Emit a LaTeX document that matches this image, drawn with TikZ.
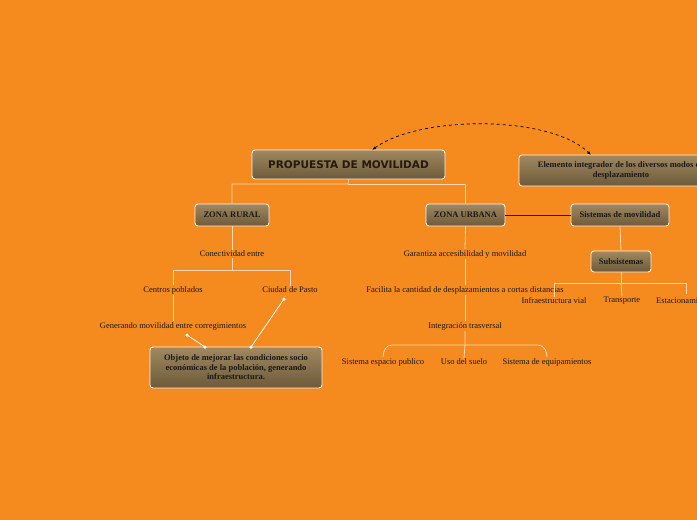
\documentclass[tikz,border=0pt]{standalone}
\usepackage{fontspec}
\setmainfont{Liberation Serif}
\newfontfamily\titlefont{DejaVu Sans}
\usetikzlibrary{arrows.meta}
\definecolor{bg}{HTML}{F58A1F}
\definecolor{btop}{HTML}{A08960}
\definecolor{bbot}{HTML}{6E5A3A}
\definecolor{ln}{HTML}{FAD9B4}
\tikzset{
 box/.style={draw=white!90!bg,line width=0.9pt,rounded corners=3pt,top color=btop,bottom color=bbot,font=\bfseries\fontsize{8.5}{9.5}\selectfont,text=black!90,inner sep=0pt,align=center},
 lbl/.style={font=\fontsize{8.5}{9.5}\selectfont,text=black!90,inner sep=1pt},
 con/.style={draw=ln,line width=0.8pt},
 dot/.style={circle,fill=white,inner sep=0pt,minimum size=3.5pt}
}
\begin{document}
\begin{tikzpicture}[x=1pt,y=-1pt]
\fill[bg] (0,0) rectangle (697,520);
\useasboundingbox (0,0) rectangle (697,520);
\begin{scope}
\clip (0,0) rectangle (697,520);
% boxes
\node[box,minimum width=193,minimum height=29,font=\titlefont\bfseries\fontsize{10.5}{12}\selectfont,text=black!80!brown] (main) at (348.5,164.5) {PROPUESTA DE MOVILIDAD};
\node[box,minimum width=204,minimum height=31] (elem) at (621,170.5) {Elemento integrador de los diversos modos de\\desplazamiento};
\node[box,minimum width=74,minimum height=22] (rural) at (232,215) {ZONA RURAL};
\node[box,minimum width=79,minimum height=22] (urb) at (465.5,215) {ZONA URBANA};
\node[box,minimum width=98,minimum height=22] (sis) at (620,215) {Sistemas de movilidad};
\node[box,minimum width=60,minimum height=21] (sub) at (621,261.5) {Subsistemas};
\node[box,minimum width=172,minimum height=41] (obj) at (236,367.5) {Objeto de mejorar las condiciones socio\\económicas de la población, generando\\infraestructura.};
% labels
\node[lbl] (con) at (232,254) {Conectividad entre};
\node[lbl] (cen) at (173,290) {Centros poblados};
\node[lbl] (ciu) at (290,290) {Ciudad de Pasto};
\node[lbl] (gen) at (173,326) {Generando movilidad entre corregimientos};
\node[lbl] (gar) at (465,254) {Garantiza accesibilidad y movilidad};
\node[lbl] (fac) at (465,290) {Facilita la cantidad de desplazamientos a cortas distancias};
\node[lbl] (int) at (465,326) {Integración trasversal};
\node[lbl] (esp) at (383,362) {Sistema espacio publico};
\node[lbl] (uso) at (464,362) {Uso del suelo};
\node[lbl] (equ) at (547,362) {Sistema de equipamientos};
\node[lbl] (inf) at (554,301) {Infraestructura vial};
\node[lbl] (tra) at (622,301) {Transporte};
\node[lbl,anchor=west] (est) at (655,301) {Estacionamientos};
\end{scope}
% connectors
\draw[con] (main.south) -- (348,184) -| (rural.north);
\draw[con] (348,184) -| (urb.north);
\draw[con] (rural.south) -- (con.north);
\draw[con] (con.south) -- (232,270) -| (cen.north);
\draw[con] (232,270) -| (ciu.north);
\draw[con] (cen.south) -- (gen.north);
\draw[con] (urb.south) -- (gar.north);
\draw[con] (gar.south) -- (fac.north);
\draw[con] (fac.south) -- (int.north);
\draw[con] (int.south) -- (465,345) -- (uso.north);
\draw[con] (465,345) -- (392,345) to[out=180,in=90] (esp.north);
\draw[con] (465,345) -- (538,345) to[out=0,in=90] (equ.north);
\draw[draw=black!80!brown,line width=1pt] (urb.east) -- (sis.west);
\draw[con] (sis.south) -- (sub.north);
\draw[con] (sub.south) -- (621,283) -| (inf.north);
\draw[con] (621,283) -- (tra.north);
\draw[con] (621,283) -| (686,294);
\coordinate (g1) at (187,335); \coordinate (c1) at (284,299);
\coordinate (o1) at (205,347); \coordinate (o2) at (251,347);
\draw[white,line width=0.8pt] (g1) -- (o1); \draw[white,line width=0.8pt] (c1) -- (o2);
\node[dot] at (g1) {}; \node[dot] at (c1) {}; \node[dot] at (o1) {}; \node[dot] at (o2) {};
\coordinate (m1) at (372,150); \coordinate (e1) at (591,155);
\draw[dashed,line width=0.7pt,{Latex[length=4pt]}-{Latex[length=4pt]}] (m1) .. controls (420,115) and (550,115) .. (e1);
\end{tikzpicture}
\end{document}
